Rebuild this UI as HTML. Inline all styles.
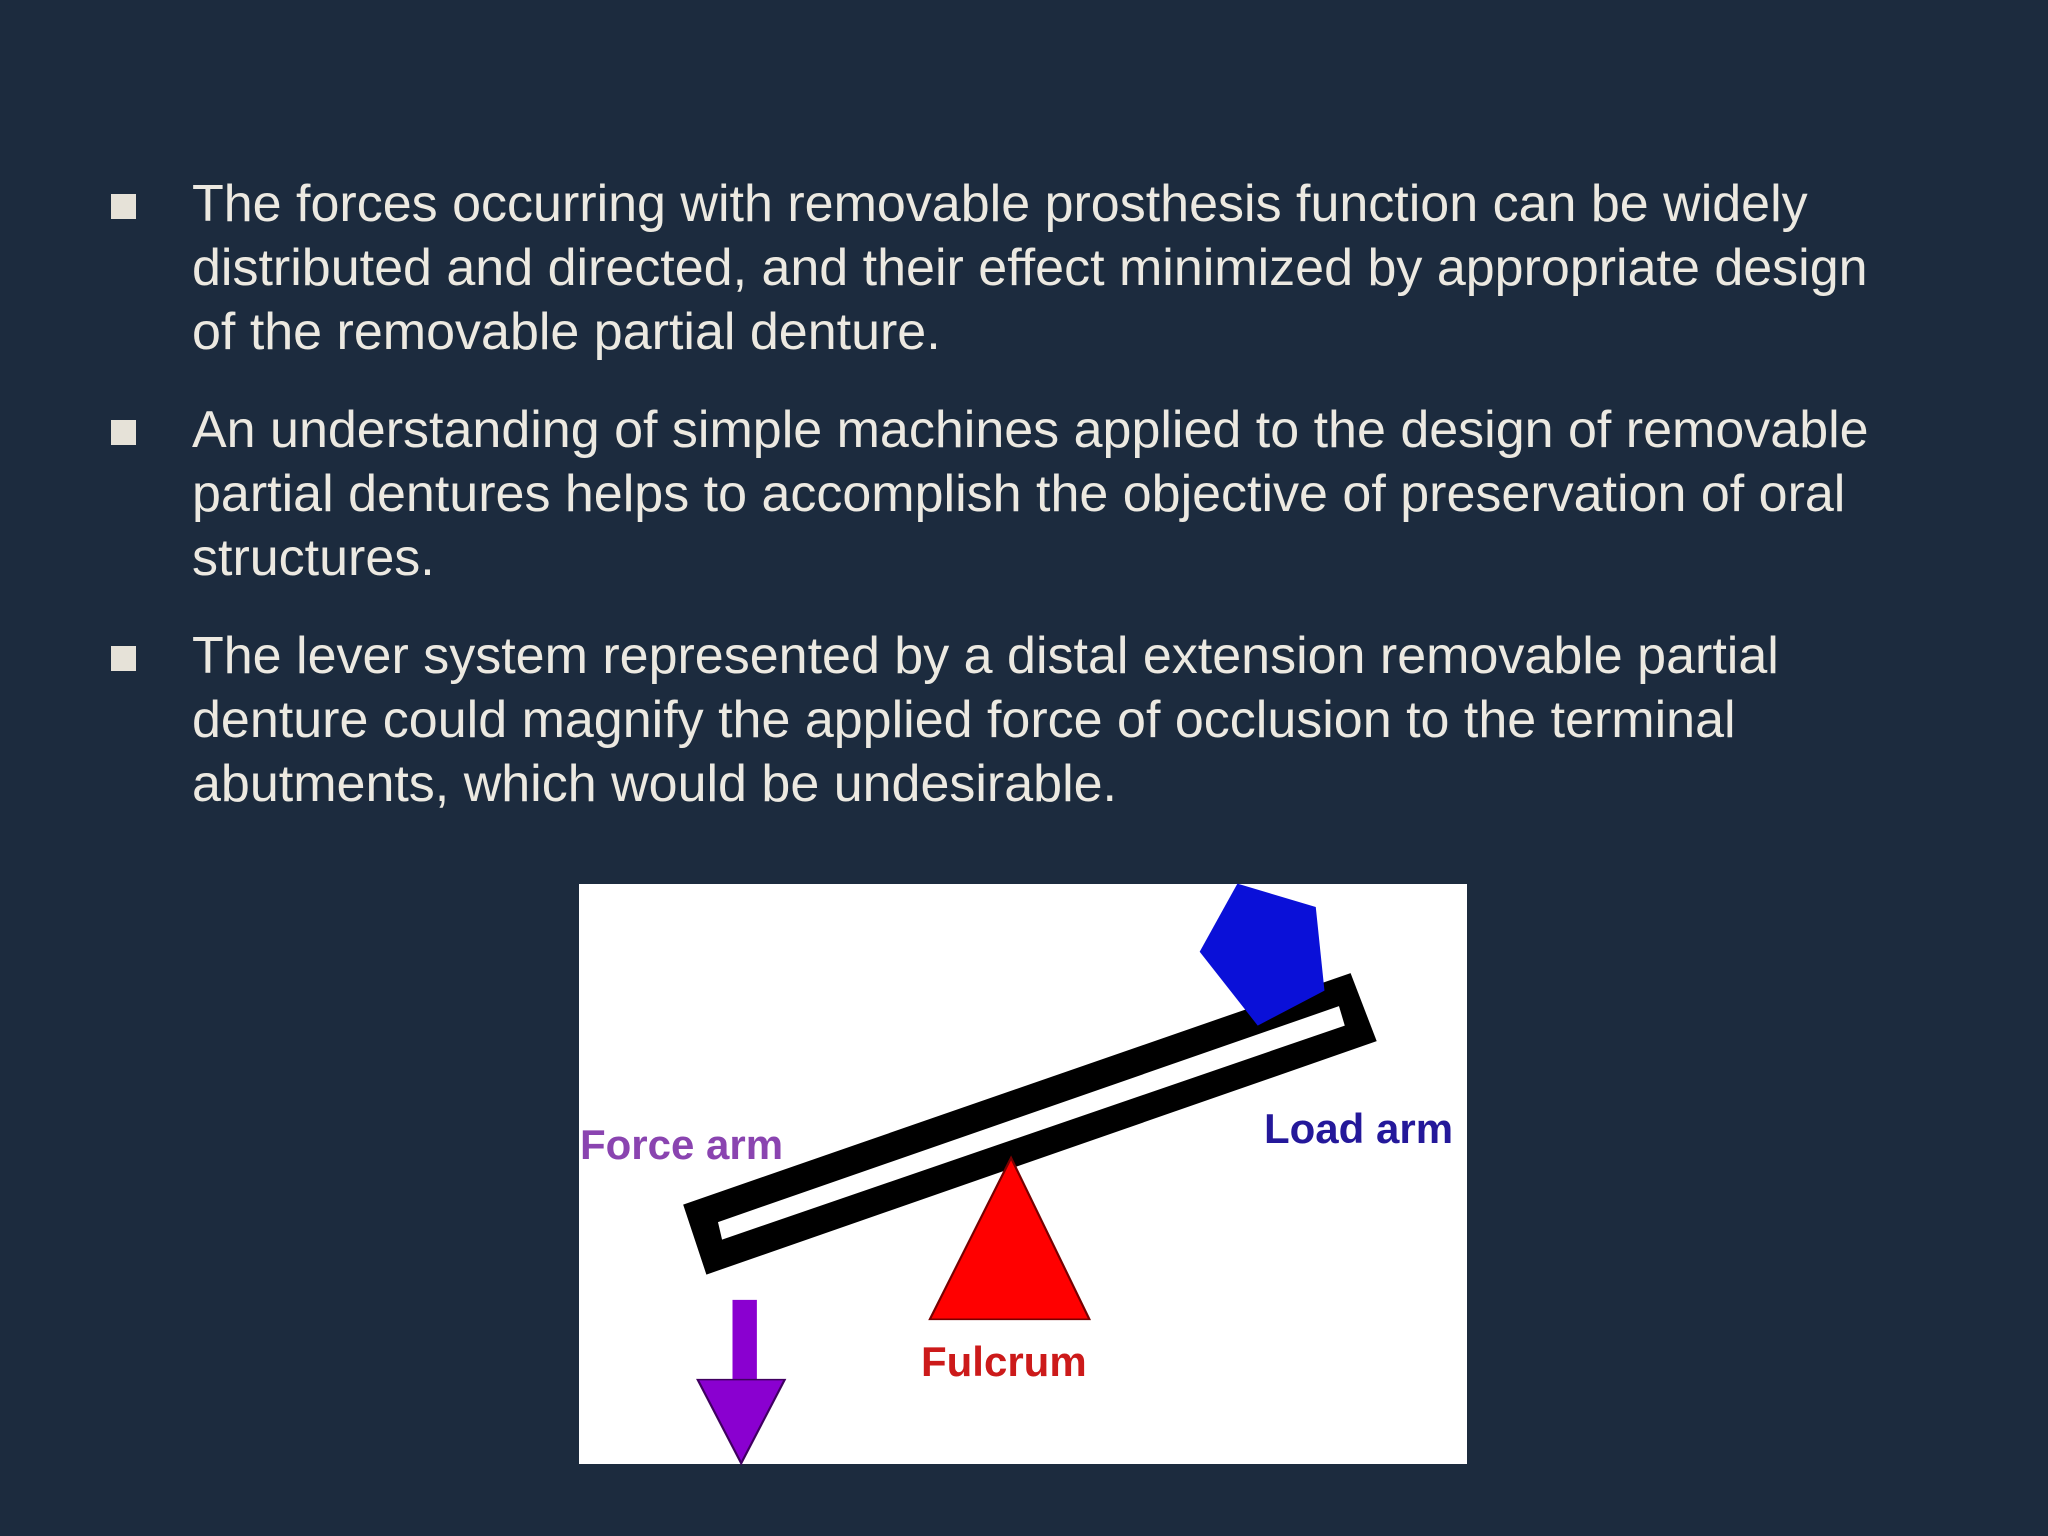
<!DOCTYPE html>
<html><head><meta charset="utf-8"><style>
html,body{margin:0;padding:0}
body{width:2048px;height:1536px;background:#1c2b3e;position:relative;overflow:hidden;font-family:"Liberation Sans",sans-serif}
.p{position:absolute;left:192px;color:#ece9e1;font-size:52px;line-height:64px;white-space:nowrap}
.b{position:absolute;left:111px;width:25px;height:25px;background:#e6e2d8}
.lbl{position:absolute;font-weight:bold;font-size:42px;white-space:nowrap;line-height:1}
</style></head><body>
<div class="b" style="top:194px"></div>
<div class="p" style="top:172px">The forces occurring with removable prosthesis function can be widely<br>distributed and directed, and their effect minimized by appropriate design<br>of the removable partial denture.</div>
<div class="b" style="top:420px"></div>
<div class="p" style="top:398px">An understanding of simple machines applied to the design of removable<br>partial dentures helps to accomplish the objective of preservation of oral<br>structures.</div>
<div class="b" style="top:646px"></div>
<div class="p" style="top:624px">The lever system represented by a distal extension removable partial<br>denture could magnify the applied force of occlusion to the terminal<br>abutments, which would be undesirable.</div>

<div style="position:absolute;left:579px;top:884px;width:888px;height:580px;background:#fff"></div>
<svg style="position:absolute;left:570px;top:870px" width="910" height="610" viewBox="0 0 1568 1568" preserveAspectRatio="none">
<polygon points="195,860 1345,265 1390,440 235,1040" fill="#000"/>
<polygon points="255,905 1325,350 1335,400 262,950" fill="#fff"/>
<polygon points="1150,35 1285,95 1300,310 1185,400 1085,210" fill="#0a10d8"/>
<polygon points="760,740 895,1155 620,1155" fill="#f00" stroke="#700" stroke-width="4"/>
<rect x="280" y="1105" width="42" height="210" fill="#8a00d0"/>
<polygon points="220,1310 370,1310 295,1525" fill="#8a00d0" stroke="#400060" stroke-width="4"/>
</svg>
<div class="lbl" style="left:580px;top:1124px;color:#8a44b0">Force arm</div>
<div class="lbl" style="left:1264px;top:1108px;color:#24189a">Load arm</div>
<div class="lbl" style="left:921px;top:1341px;color:#cc1a1a">Fulcrum</div>
</body></html>
